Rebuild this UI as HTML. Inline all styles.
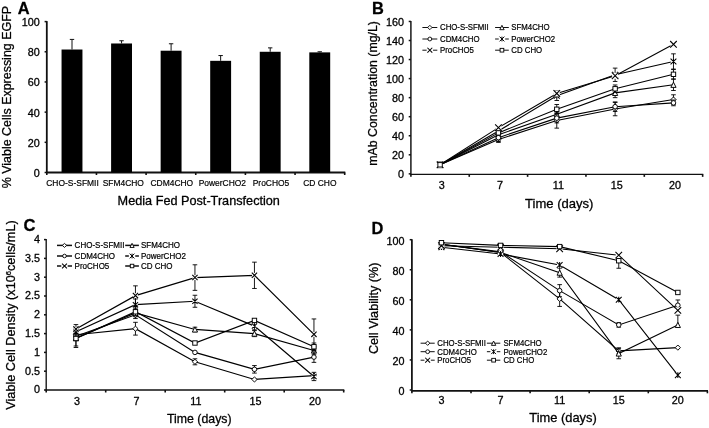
<!DOCTYPE html>
<html lang="en"><head><meta charset="utf-8"><title>Figure</title>
<style>html,body{margin:0;padding:0;background:#fff}svg{display:block}</style></head>
<body>
<svg width="709" height="428" viewBox="0 0 709 428" font-family="'Liberation Sans', sans-serif" fill="#000">
<style>text{stroke:#000;stroke-width:0.28px;stroke-linejoin:round}</style>
<rect width="709" height="428" fill="#fff"/>
<line x1="46.80" y1="21.10" x2="46.80" y2="173.10" stroke="#111" stroke-width="1.8"/>
<line x1="46.20" y1="172.50" x2="345.30" y2="172.50" stroke="#111" stroke-width="1.8"/>
<line x1="44.60" y1="172.50" x2="46.80" y2="172.50" stroke="#111" stroke-width="1.5"/>
<text transform="translate(39.80 177.00) scale(1.06 1)" font-size="10.2" text-anchor="end">0</text>
<line x1="44.60" y1="142.32" x2="46.80" y2="142.32" stroke="#111" stroke-width="1.5"/>
<text transform="translate(39.80 146.82) scale(1.06 1)" font-size="10.2" text-anchor="end">20</text>
<line x1="44.60" y1="112.14" x2="46.80" y2="112.14" stroke="#111" stroke-width="1.5"/>
<text transform="translate(39.80 116.64) scale(1.06 1)" font-size="10.2" text-anchor="end">40</text>
<line x1="44.60" y1="81.96" x2="46.80" y2="81.96" stroke="#111" stroke-width="1.5"/>
<text transform="translate(39.80 86.46) scale(1.06 1)" font-size="10.2" text-anchor="end">60</text>
<line x1="44.60" y1="51.78" x2="46.80" y2="51.78" stroke="#111" stroke-width="1.5"/>
<text transform="translate(39.80 56.28) scale(1.06 1)" font-size="10.2" text-anchor="end">80</text>
<line x1="44.60" y1="21.60" x2="46.80" y2="21.60" stroke="#111" stroke-width="1.5"/>
<text transform="translate(39.80 26.10) scale(1.06 1)" font-size="10.2" text-anchor="end">100</text>
<line x1="46.80" y1="172.50" x2="46.80" y2="175.00" stroke="#111" stroke-width="1.6"/>
<line x1="96.45" y1="172.50" x2="96.45" y2="175.00" stroke="#111" stroke-width="1.6"/>
<line x1="146.10" y1="172.50" x2="146.10" y2="175.00" stroke="#111" stroke-width="1.6"/>
<line x1="195.75" y1="172.50" x2="195.75" y2="175.00" stroke="#111" stroke-width="1.6"/>
<line x1="245.40" y1="172.50" x2="245.40" y2="175.00" stroke="#111" stroke-width="1.6"/>
<line x1="295.05" y1="172.50" x2="295.05" y2="175.00" stroke="#111" stroke-width="1.6"/>
<line x1="344.70" y1="172.50" x2="344.70" y2="175.00" stroke="#111" stroke-width="1.6"/>
<rect x="61.55" y="49.52" width="20.9" height="122.98" fill="#000"/>
<path d="M72.00 49.52L72.00 39.41M69.80 39.41L74.20 39.41" stroke="#111" stroke-width="1.0" fill="none"/>
<text x="72.53" y="185.80" font-size="8.45" text-anchor="middle" style="stroke-width:0.18px">CHO-S-SFMII</text>
<rect x="111.10" y="43.48" width="20.9" height="129.02" fill="#000"/>
<path d="M121.55 43.48L121.55 40.76M119.35 40.76L123.75 40.76" stroke="#111" stroke-width="1.0" fill="none"/>
<text x="123.27" y="185.80" font-size="8.45" text-anchor="middle" style="stroke-width:0.18px">SFM4CHO</text>
<rect x="160.65" y="50.72" width="20.9" height="121.78" fill="#000"/>
<path d="M171.10 50.72L171.10 43.78M168.90 43.78L173.30 43.78" stroke="#111" stroke-width="1.0" fill="none"/>
<text x="171.83" y="185.80" font-size="8.45" text-anchor="middle" style="stroke-width:0.18px">CDM4CHO</text>
<rect x="210.20" y="60.83" width="20.9" height="111.67" fill="#000"/>
<path d="M220.65 60.83L220.65 55.55M218.45 55.55L222.85 55.55" stroke="#111" stroke-width="1.0" fill="none"/>
<text x="222.38" y="185.80" font-size="8.45" text-anchor="middle" style="stroke-width:0.18px">PowerCHO2</text>
<rect x="259.75" y="51.78" width="20.9" height="120.72" fill="#000"/>
<path d="M270.20 51.78L270.20 47.86M268.00 47.86L272.40 47.86" stroke="#111" stroke-width="1.0" fill="none"/>
<text x="271.02" y="185.80" font-size="8.45" text-anchor="middle" style="stroke-width:0.18px">ProCHO5</text>
<rect x="309.30" y="52.38" width="20.9" height="120.12" fill="#000"/>
<path d="M319.75 52.38L319.75 51.78M317.55 51.78L321.95 51.78" stroke="#111" stroke-width="1.0" fill="none"/>
<text x="319.88" y="185.80" font-size="8.45" text-anchor="middle" style="stroke-width:0.18px">CD CHO</text>
<text transform="translate(198.75 205.30) scale(1.04 1)" font-size="12.2" text-anchor="middle">Media Fed Post-Transfection</text>
<text x="11.30" y="97.10" font-size="12.45" text-anchor="middle" transform="rotate(-90 11.30 97.10)">% Viable Cells Expressing EGFP</text>
<text x="17.80" y="13.95" font-size="16.4" text-anchor="start" font-weight="bold">A</text>
<line x1="410.90" y1="20.95" x2="410.90" y2="174.45" stroke="#111" stroke-width="1.45"/>
<line x1="410.30" y1="174.35" x2="703.25" y2="174.35" stroke="#111" stroke-width="1.45"/>
<line x1="408.70" y1="173.85" x2="410.90" y2="173.85" stroke="#111" stroke-width="1.5"/>
<text transform="translate(404.00 178.05) scale(1.06 1)" font-size="10.2" text-anchor="end">0</text>
<line x1="408.70" y1="154.80" x2="410.90" y2="154.80" stroke="#111" stroke-width="1.5"/>
<text transform="translate(404.00 159.00) scale(1.06 1)" font-size="10.2" text-anchor="end">20</text>
<line x1="408.70" y1="135.75" x2="410.90" y2="135.75" stroke="#111" stroke-width="1.5"/>
<text transform="translate(404.00 139.95) scale(1.06 1)" font-size="10.2" text-anchor="end">40</text>
<line x1="408.70" y1="116.70" x2="410.90" y2="116.70" stroke="#111" stroke-width="1.5"/>
<text transform="translate(404.00 120.90) scale(1.06 1)" font-size="10.2" text-anchor="end">60</text>
<line x1="408.70" y1="97.65" x2="410.90" y2="97.65" stroke="#111" stroke-width="1.5"/>
<text transform="translate(404.00 101.85) scale(1.06 1)" font-size="10.2" text-anchor="end">80</text>
<line x1="408.70" y1="78.60" x2="410.90" y2="78.60" stroke="#111" stroke-width="1.5"/>
<text transform="translate(404.00 82.80) scale(1.06 1)" font-size="10.2" text-anchor="end">100</text>
<line x1="408.70" y1="59.55" x2="410.90" y2="59.55" stroke="#111" stroke-width="1.5"/>
<text transform="translate(404.00 63.75) scale(1.06 1)" font-size="10.2" text-anchor="end">120</text>
<line x1="408.70" y1="40.50" x2="410.90" y2="40.50" stroke="#111" stroke-width="1.5"/>
<text transform="translate(404.00 44.70) scale(1.06 1)" font-size="10.2" text-anchor="end">140</text>
<line x1="408.70" y1="21.45" x2="410.90" y2="21.45" stroke="#111" stroke-width="1.5"/>
<text transform="translate(404.00 25.65) scale(1.06 1)" font-size="10.2" text-anchor="end">160</text>
<line x1="410.90" y1="174.35" x2="410.90" y2="176.85" stroke="#111" stroke-width="1.6"/>
<line x1="469.25" y1="174.35" x2="469.25" y2="176.85" stroke="#111" stroke-width="1.6"/>
<line x1="527.60" y1="174.35" x2="527.60" y2="176.85" stroke="#111" stroke-width="1.6"/>
<line x1="585.95" y1="174.35" x2="585.95" y2="176.85" stroke="#111" stroke-width="1.6"/>
<line x1="644.30" y1="174.35" x2="644.30" y2="176.85" stroke="#111" stroke-width="1.6"/>
<line x1="702.65" y1="174.35" x2="702.65" y2="176.85" stroke="#111" stroke-width="1.6"/>
<polyline points="440.07,164.80 498.42,139.56 556.77,120.51 615.12,109.08 673.47,99.55" fill="none" stroke="#000" stroke-width="1.1"/>
<path d="M440.07 162.42L440.07 167.18M437.77 162.42L442.38 162.42M437.77 167.18L442.38 167.18" fill="none" stroke="#000" stroke-width="0.9"/>
<path d="M498.42 136.70L498.42 142.42M496.12 136.70L500.72 136.70M496.12 142.42L500.72 142.42" fill="none" stroke="#000" stroke-width="0.9"/>
<path d="M556.77 112.89L556.77 128.13M554.48 112.89L559.07 112.89M554.48 128.13L559.07 128.13" fill="none" stroke="#000" stroke-width="0.9"/>
<path d="M615.12 102.41L615.12 115.75M612.83 102.41L617.42 102.41M612.83 115.75L617.42 115.75" fill="none" stroke="#000" stroke-width="0.9"/>
<path d="M673.47 94.79L673.47 104.32M671.17 94.79L675.77 94.79M671.17 104.32L675.77 104.32" fill="none" stroke="#000" stroke-width="0.9"/>
<path d="M437.47 164.80L440.07 162.20L442.68 164.80L440.07 167.40Z" fill="#fff" stroke="#000" stroke-width="0.95"/>
<path d="M495.82 139.56L498.42 136.96L501.02 139.56L498.42 142.16Z" fill="#fff" stroke="#000" stroke-width="0.95"/>
<path d="M554.17 120.51L556.77 117.91L559.38 120.51L556.77 123.11Z" fill="#fff" stroke="#000" stroke-width="0.95"/>
<path d="M612.52 109.08L615.12 106.48L617.73 109.08L615.12 111.68Z" fill="#fff" stroke="#000" stroke-width="0.95"/>
<path d="M670.87 99.55L673.47 96.95L676.07 99.55L673.47 102.15Z" fill="#fff" stroke="#000" stroke-width="0.95"/>
<polyline points="440.07,164.80 498.42,134.80 556.77,114.32 615.12,92.89 673.47,84.79" fill="none" stroke="#000" stroke-width="1.1"/>
<path d="M498.42 131.94L498.42 137.66M496.12 131.94L500.72 131.94M496.12 137.66L500.72 137.66" fill="none" stroke="#000" stroke-width="0.9"/>
<path d="M556.77 109.56L556.77 119.08M554.48 109.56L559.07 109.56M554.48 119.08L559.07 119.08" fill="none" stroke="#000" stroke-width="0.9"/>
<path d="M615.12 88.12L615.12 97.65M612.83 88.12L617.42 88.12M612.83 97.65L617.42 97.65" fill="none" stroke="#000" stroke-width="0.9"/>
<path d="M673.47 79.08L673.47 90.51M671.17 79.08L675.77 79.08M671.17 90.51L675.77 90.51" fill="none" stroke="#000" stroke-width="0.9"/>
<path d="M437.47 167.40L440.07 162.20L442.68 167.40Z" fill="#fff" stroke="#000" stroke-width="0.95"/>
<path d="M495.82 137.40L498.42 132.20L501.02 137.40Z" fill="#fff" stroke="#000" stroke-width="0.95"/>
<path d="M554.17 116.92L556.77 111.72L559.38 116.92Z" fill="#fff" stroke="#000" stroke-width="0.95"/>
<path d="M612.52 95.49L615.12 90.29L617.73 95.49Z" fill="#fff" stroke="#000" stroke-width="0.95"/>
<path d="M670.87 87.39L673.47 82.19L676.07 87.39Z" fill="#fff" stroke="#000" stroke-width="0.95"/>
<polyline points="440.07,164.80 498.42,137.66 556.77,118.13 615.12,106.70 673.47,102.89" fill="none" stroke="#000" stroke-width="1.1"/>
<path d="M498.42 133.84L498.42 141.47M496.12 133.84L500.72 133.84M496.12 141.47L500.72 141.47" fill="none" stroke="#000" stroke-width="0.9"/>
<path d="M556.77 113.37L556.77 122.89M554.48 113.37L559.07 113.37M554.48 122.89L559.07 122.89" fill="none" stroke="#000" stroke-width="0.9"/>
<path d="M615.12 101.94L615.12 111.46M612.83 101.94L617.42 101.94M612.83 111.46L617.42 111.46" fill="none" stroke="#000" stroke-width="0.9"/>
<path d="M673.47 100.03L673.47 105.75M671.17 100.03L675.77 100.03M671.17 105.75L675.77 105.75" fill="none" stroke="#000" stroke-width="0.9"/>
<circle cx="440.07" cy="164.80" r="2.28" fill="#fff" stroke="#000" stroke-width="0.95"/>
<circle cx="498.42" cy="137.66" r="2.28" fill="#fff" stroke="#000" stroke-width="0.95"/>
<circle cx="556.77" cy="118.13" r="2.28" fill="#fff" stroke="#000" stroke-width="0.95"/>
<circle cx="615.12" cy="106.70" r="2.28" fill="#fff" stroke="#000" stroke-width="0.95"/>
<circle cx="673.47" cy="102.89" r="2.28" fill="#fff" stroke="#000" stroke-width="0.95"/>
<polyline points="440.07,164.80 498.42,130.99 556.77,95.74 615.12,74.79 673.47,61.45" fill="none" stroke="#000" stroke-width="1.1"/>
<path d="M440.07 161.94L440.07 167.66M437.77 161.94L442.38 161.94M437.77 167.66L442.38 167.66" fill="none" stroke="#000" stroke-width="0.9"/>
<path d="M498.42 128.13L498.42 133.84M496.12 128.13L500.72 128.13M496.12 133.84L500.72 133.84" fill="none" stroke="#000" stroke-width="0.9"/>
<path d="M556.77 90.98L556.77 100.51M554.48 90.98L559.07 90.98M554.48 100.51L559.07 100.51" fill="none" stroke="#000" stroke-width="0.9"/>
<path d="M615.12 68.12L615.12 81.46M612.83 68.12L617.42 68.12M612.83 81.46L617.42 81.46" fill="none" stroke="#000" stroke-width="0.9"/>
<path d="M673.47 53.83L673.47 69.07M671.17 53.83L675.77 53.83M671.17 69.07L675.77 69.07" fill="none" stroke="#000" stroke-width="0.9"/>
<rect x="437.41" y="162.13" width="5.34" height="5.34" fill="#fff"/>
<path d="M437.18 161.90L442.97 167.70M437.18 167.70L442.97 161.90M440.07 161.90L440.07 167.70" fill="none" stroke="#000" stroke-width="1.04"/>
<rect x="495.76" y="128.32" width="5.34" height="5.34" fill="#fff"/>
<path d="M495.52 128.09L501.32 133.89M495.52 133.89L501.32 128.09M498.42 128.09L498.42 133.89" fill="none" stroke="#000" stroke-width="1.04"/>
<rect x="554.11" y="93.08" width="5.34" height="5.34" fill="#fff"/>
<path d="M553.88 92.84L559.67 98.64M553.88 98.64L559.67 92.84M556.77 92.84L556.77 98.64" fill="none" stroke="#000" stroke-width="1.04"/>
<rect x="612.46" y="72.12" width="5.34" height="5.34" fill="#fff"/>
<path d="M612.23 71.89L618.02 77.69M612.23 77.69L618.02 71.89M615.12 71.89L615.12 77.69" fill="none" stroke="#000" stroke-width="1.04"/>
<rect x="670.81" y="58.79" width="5.34" height="5.34" fill="#fff"/>
<path d="M670.57 58.55L676.37 64.36M670.57 64.36L676.37 58.55M673.47 58.55L673.47 64.36" fill="none" stroke="#000" stroke-width="1.04"/>
<polyline points="440.07,164.80 498.42,127.65 556.77,93.46 615.12,75.74 673.47,44.31" fill="none" stroke="#000" stroke-width="1.1"/>
<path d="M556.77 90.60L556.77 96.32M554.48 90.60L559.07 90.60M554.48 96.32L559.07 96.32" fill="none" stroke="#000" stroke-width="0.9"/>
<rect x="437.04" y="161.77" width="6.07" height="6.07" fill="#fff"/>
<path d="M436.77 161.50L443.38 168.10M436.77 168.10L443.38 161.50" fill="none" stroke="#000" stroke-width="1.09"/>
<rect x="495.39" y="124.62" width="6.07" height="6.07" fill="#fff"/>
<path d="M495.12 124.35L501.72 130.95M495.12 130.95L501.72 124.35" fill="none" stroke="#000" stroke-width="1.09"/>
<rect x="553.74" y="90.42" width="6.07" height="6.07" fill="#fff"/>
<path d="M553.48 90.16L560.07 96.76M553.48 96.76L560.07 90.16" fill="none" stroke="#000" stroke-width="1.09"/>
<rect x="612.09" y="72.71" width="6.07" height="6.07" fill="#fff"/>
<path d="M611.83 72.44L618.42 79.04M611.83 79.04L618.42 72.44" fill="none" stroke="#000" stroke-width="1.09"/>
<rect x="670.44" y="41.27" width="6.07" height="6.07" fill="#fff"/>
<path d="M670.17 41.01L676.77 47.61M670.17 47.61L676.77 41.01" fill="none" stroke="#000" stroke-width="1.09"/>
<polyline points="440.07,164.80 498.42,132.89 556.77,109.27 615.12,88.79 673.47,74.31" fill="none" stroke="#000" stroke-width="1.1"/>
<path d="M556.77 104.51L556.77 114.03M554.48 104.51L559.07 104.51M554.48 114.03L559.07 114.03" fill="none" stroke="#000" stroke-width="0.9"/>
<path d="M615.12 84.98L615.12 92.60M612.83 84.98L617.42 84.98M612.83 92.60L617.42 92.60" fill="none" stroke="#000" stroke-width="0.9"/>
<path d="M673.47 69.55L673.47 79.08M671.17 69.55L675.77 69.55M671.17 79.08L675.77 79.08" fill="none" stroke="#000" stroke-width="0.9"/>
<rect x="437.88" y="162.60" width="4.40" height="4.40" fill="#fff" stroke="#000" stroke-width="0.95"/>
<rect x="496.22" y="130.69" width="4.40" height="4.40" fill="#fff" stroke="#000" stroke-width="0.95"/>
<rect x="554.57" y="107.07" width="4.40" height="4.40" fill="#fff" stroke="#000" stroke-width="0.95"/>
<rect x="612.92" y="86.59" width="4.40" height="4.40" fill="#fff" stroke="#000" stroke-width="0.95"/>
<rect x="671.27" y="72.11" width="4.40" height="4.40" fill="#fff" stroke="#000" stroke-width="0.95"/>
<text transform="translate(441.68 188.75) scale(1.06 1)" font-size="10.2" text-anchor="middle">3</text>
<text transform="translate(500.02 188.75) scale(1.06 1)" font-size="10.2" text-anchor="middle">7</text>
<text transform="translate(558.38 188.75) scale(1.06 1)" font-size="10.2" text-anchor="middle">11</text>
<text transform="translate(616.73 188.75) scale(1.06 1)" font-size="10.2" text-anchor="middle">15</text>
<text transform="translate(675.07 188.75) scale(1.06 1)" font-size="10.2" text-anchor="middle">20</text>
<text transform="translate(559.20 207.90) scale(1.045 1)" font-size="12.5" text-anchor="middle">Time (days)</text>
<text x="377.00" y="93.40" font-size="12.35" text-anchor="middle" transform="rotate(-90 377.00 93.40)">mAb Concentration (mg/L)</text>
<text x="372.10" y="14.00" font-size="16.4" text-anchor="start" font-weight="bold">B</text>
<line x1="422.40" y1="27.50" x2="437.30" y2="27.50" stroke="#111" stroke-width="1.0"/>
<path d="M427.67 27.50L429.85 25.32L432.03 27.50L429.85 29.68Z" fill="#fff" stroke="#000" stroke-width="0.9"/>
<text transform="translate(440.00 30.45) scale(0.955 1)" font-size="8.2" text-anchor="start" style="stroke-width:0.2px">CHO-S-SFMII</text>
<line x1="495.10" y1="27.50" x2="508.80" y2="27.50" stroke="#111" stroke-width="1.0"/>
<path d="M499.77 29.68L501.95 25.32L504.13 29.68Z" fill="#fff" stroke="#000" stroke-width="0.9"/>
<text transform="translate(511.30 30.45) scale(0.955 1)" font-size="8.2" text-anchor="start" style="stroke-width:0.2px">SFM4CHO</text>
<line x1="422.40" y1="39.00" x2="437.30" y2="39.00" stroke="#111" stroke-width="1.0"/>
<circle cx="429.85" cy="39.00" r="1.92" fill="#fff" stroke="#000" stroke-width="0.9"/>
<text transform="translate(440.00 41.95) scale(0.955 1)" font-size="8.2" text-anchor="start" style="stroke-width:0.2px">CDM4CHO</text>
<line x1="495.10" y1="39.00" x2="508.80" y2="39.00" stroke="#111" stroke-width="1.0"/>
<rect x="498.75" y="37.00" width="6.4" height="4" fill="#fff"/>
<path d="M499.57 36.62L504.33 41.38M499.57 41.38L504.33 36.62M501.95 36.62L501.95 41.38" fill="none" stroke="#000" stroke-width="0.99"/>
<text transform="translate(511.30 41.95) scale(0.955 1)" font-size="8.2" text-anchor="start" style="stroke-width:0.2px">PowerCHO2</text>
<line x1="422.40" y1="50.20" x2="437.30" y2="50.20" stroke="#111" stroke-width="1.0"/>
<rect x="426.65" y="48.20" width="6.4" height="4" fill="#fff"/>
<path d="M427.41 47.76L432.29 52.64M427.41 52.64L432.29 47.76" fill="none" stroke="#000" stroke-width="1.03"/>
<text transform="translate(440.00 53.15) scale(0.955 1)" font-size="8.2" text-anchor="start" style="stroke-width:0.2px">ProCHO5</text>
<line x1="495.10" y1="50.20" x2="508.80" y2="50.20" stroke="#111" stroke-width="1.0"/>
<rect x="500.10" y="48.35" width="3.70" height="3.70" fill="#fff" stroke="#000" stroke-width="0.9"/>
<text transform="translate(511.30 53.15) scale(0.955 1)" font-size="8.2" text-anchor="start" style="stroke-width:0.2px">CD CHO</text>
<line x1="46.20" y1="239.10" x2="46.20" y2="390.60" stroke="#111" stroke-width="1.35"/>
<line x1="45.60" y1="390.00" x2="344.30" y2="390.00" stroke="#111" stroke-width="1.35"/>
<line x1="44.00" y1="390.00" x2="46.20" y2="390.00" stroke="#111" stroke-width="1.5"/>
<text transform="translate(40.00 393.40) scale(1.06 1)" font-size="10.2" text-anchor="end">0</text>
<line x1="44.00" y1="371.20" x2="46.20" y2="371.20" stroke="#111" stroke-width="1.5"/>
<text transform="translate(40.00 374.60) scale(1.06 1)" font-size="10.2" text-anchor="end">0.5</text>
<line x1="44.00" y1="352.40" x2="46.20" y2="352.40" stroke="#111" stroke-width="1.5"/>
<text transform="translate(40.00 355.80) scale(1.06 1)" font-size="10.2" text-anchor="end">1</text>
<line x1="44.00" y1="333.60" x2="46.20" y2="333.60" stroke="#111" stroke-width="1.5"/>
<text transform="translate(40.00 337.00) scale(1.06 1)" font-size="10.2" text-anchor="end">1.5</text>
<line x1="44.00" y1="314.80" x2="46.20" y2="314.80" stroke="#111" stroke-width="1.5"/>
<text transform="translate(40.00 318.20) scale(1.06 1)" font-size="10.2" text-anchor="end">2</text>
<line x1="44.00" y1="296.00" x2="46.20" y2="296.00" stroke="#111" stroke-width="1.5"/>
<text transform="translate(40.00 299.40) scale(1.06 1)" font-size="10.2" text-anchor="end">2.5</text>
<line x1="44.00" y1="277.20" x2="46.20" y2="277.20" stroke="#111" stroke-width="1.5"/>
<text transform="translate(40.00 280.60) scale(1.06 1)" font-size="10.2" text-anchor="end">3</text>
<line x1="44.00" y1="258.40" x2="46.20" y2="258.40" stroke="#111" stroke-width="1.5"/>
<text transform="translate(40.00 261.80) scale(1.06 1)" font-size="10.2" text-anchor="end">3.5</text>
<line x1="44.00" y1="239.60" x2="46.20" y2="239.60" stroke="#111" stroke-width="1.5"/>
<text transform="translate(40.00 243.00) scale(1.06 1)" font-size="10.2" text-anchor="end">4</text>
<line x1="46.20" y1="390.00" x2="46.20" y2="392.50" stroke="#111" stroke-width="1.6"/>
<line x1="105.70" y1="390.00" x2="105.70" y2="392.50" stroke="#111" stroke-width="1.6"/>
<line x1="165.20" y1="390.00" x2="165.20" y2="392.50" stroke="#111" stroke-width="1.6"/>
<line x1="224.70" y1="390.00" x2="224.70" y2="392.50" stroke="#111" stroke-width="1.6"/>
<line x1="284.20" y1="390.00" x2="284.20" y2="392.50" stroke="#111" stroke-width="1.6"/>
<line x1="343.70" y1="390.00" x2="343.70" y2="392.50" stroke="#111" stroke-width="1.6"/>
<polyline points="75.95,334.73 135.45,328.71 194.95,361.80 254.45,379.47 313.95,375.71" fill="none" stroke="#000" stroke-width="1.2"/>
<path d="M75.95 329.09L75.95 340.37M73.65 329.09L78.25 329.09M73.65 340.37L78.25 340.37" fill="none" stroke="#000" stroke-width="0.9"/>
<path d="M135.45 322.32L135.45 335.10M133.15 322.32L137.75 322.32M133.15 335.10L137.75 335.10" fill="none" stroke="#000" stroke-width="0.9"/>
<path d="M194.95 358.79L194.95 364.81M192.65 358.79L197.25 358.79M192.65 364.81L197.25 364.81" fill="none" stroke="#000" stroke-width="0.9"/>
<path d="M73.35 334.73L75.95 332.13L78.55 334.73L75.95 337.33Z" fill="#fff" stroke="#000" stroke-width="0.95"/>
<path d="M132.85 328.71L135.45 326.11L138.05 328.71L135.45 331.31Z" fill="#fff" stroke="#000" stroke-width="0.95"/>
<path d="M192.35 361.80L194.95 359.20L197.55 361.80L194.95 364.40Z" fill="#fff" stroke="#000" stroke-width="0.95"/>
<path d="M251.85 379.47L254.45 376.87L257.05 379.47L254.45 382.07Z" fill="#fff" stroke="#000" stroke-width="0.95"/>
<path d="M311.35 375.71L313.95 373.11L316.55 375.71L313.95 378.31Z" fill="#fff" stroke="#000" stroke-width="0.95"/>
<polyline points="75.95,338.11 135.45,312.92 194.95,329.46 254.45,333.60 313.95,350.52" fill="none" stroke="#000" stroke-width="1.2"/>
<path d="M75.95 328.71L75.95 347.51M73.65 328.71L78.25 328.71M73.65 347.51L78.25 347.51" fill="none" stroke="#000" stroke-width="0.9"/>
<path d="M135.45 309.16L135.45 316.68M133.15 309.16L137.75 309.16M133.15 316.68L137.75 316.68" fill="none" stroke="#000" stroke-width="0.9"/>
<path d="M194.95 327.21L194.95 331.72M192.65 327.21L197.25 327.21M192.65 331.72L197.25 331.72" fill="none" stroke="#000" stroke-width="0.9"/>
<path d="M254.45 330.59L254.45 336.61M252.15 330.59L256.75 330.59M252.15 336.61L256.75 336.61" fill="none" stroke="#000" stroke-width="0.9"/>
<path d="M313.95 346.76L313.95 354.28M311.65 346.76L316.25 346.76M311.65 354.28L316.25 354.28" fill="none" stroke="#000" stroke-width="0.9"/>
<path d="M73.35 340.71L75.95 335.51L78.55 340.71Z" fill="#fff" stroke="#000" stroke-width="0.95"/>
<path d="M132.85 315.52L135.45 310.32L138.05 315.52Z" fill="#fff" stroke="#000" stroke-width="0.95"/>
<path d="M192.35 332.06L194.95 326.86L197.55 332.06Z" fill="#fff" stroke="#000" stroke-width="0.95"/>
<path d="M251.85 336.20L254.45 331.00L257.05 336.20Z" fill="#fff" stroke="#000" stroke-width="0.95"/>
<path d="M311.35 353.12L313.95 347.92L316.55 353.12Z" fill="#fff" stroke="#000" stroke-width="0.95"/>
<polyline points="75.95,336.23 135.45,314.80 194.95,352.40 254.45,369.32 313.95,357.10" fill="none" stroke="#000" stroke-width="1.2"/>
<path d="M75.95 332.47L75.95 339.99M73.65 332.47L78.25 332.47M73.65 339.99L78.25 339.99" fill="none" stroke="#000" stroke-width="0.9"/>
<path d="M135.45 311.04L135.45 318.56M133.15 311.04L137.75 311.04M133.15 318.56L137.75 318.56" fill="none" stroke="#000" stroke-width="0.9"/>
<path d="M254.45 365.56L254.45 373.08M252.15 365.56L256.75 365.56M252.15 373.08L256.75 373.08" fill="none" stroke="#000" stroke-width="0.9"/>
<path d="M313.95 351.84L313.95 362.36M311.65 351.84L316.25 351.84M311.65 362.36L316.25 362.36" fill="none" stroke="#000" stroke-width="0.9"/>
<circle cx="75.95" cy="336.23" r="2.28" fill="#fff" stroke="#000" stroke-width="0.95"/>
<circle cx="135.45" cy="314.80" r="2.28" fill="#fff" stroke="#000" stroke-width="0.95"/>
<circle cx="194.95" cy="352.40" r="2.28" fill="#fff" stroke="#000" stroke-width="0.95"/>
<circle cx="254.45" cy="369.32" r="2.28" fill="#fff" stroke="#000" stroke-width="0.95"/>
<circle cx="313.95" cy="357.10" r="2.28" fill="#fff" stroke="#000" stroke-width="0.95"/>
<polyline points="75.95,331.72 135.45,304.65 194.95,301.26 254.45,326.08 313.95,376.46" fill="none" stroke="#000" stroke-width="1.2"/>
<path d="M75.95 327.21L75.95 336.23M73.65 327.21L78.25 327.21M73.65 336.23L78.25 336.23" fill="none" stroke="#000" stroke-width="0.9"/>
<path d="M135.45 299.01L135.45 310.29M133.15 299.01L137.75 299.01M133.15 310.29L137.75 310.29" fill="none" stroke="#000" stroke-width="0.9"/>
<path d="M194.95 295.25L194.95 307.28M192.65 295.25L197.25 295.25M192.65 307.28L197.25 307.28" fill="none" stroke="#000" stroke-width="0.9"/>
<path d="M254.45 322.32L254.45 329.84M252.15 322.32L256.75 322.32M252.15 329.84L256.75 329.84" fill="none" stroke="#000" stroke-width="0.9"/>
<path d="M313.95 372.33L313.95 380.60M311.65 372.33L316.25 372.33M311.65 380.60L316.25 380.60" fill="none" stroke="#000" stroke-width="0.9"/>
<rect x="73.55" y="329.32" width="4.80" height="4.80" fill="#fff"/>
<path d="M73.34 329.11L78.56 334.33M73.34 334.33L78.56 329.11M75.95 329.11L75.95 334.33" fill="none" stroke="#000" stroke-width="1.04"/>
<rect x="133.05" y="302.25" width="4.80" height="4.80" fill="#fff"/>
<path d="M132.84 302.04L138.06 307.26M132.84 307.26L138.06 302.04M135.45 302.04L135.45 307.26" fill="none" stroke="#000" stroke-width="1.04"/>
<rect x="192.55" y="298.86" width="4.80" height="4.80" fill="#fff"/>
<path d="M192.34 298.65L197.56 303.87M192.34 303.87L197.56 298.65M194.95 298.65L194.95 303.87" fill="none" stroke="#000" stroke-width="1.04"/>
<rect x="252.05" y="323.68" width="4.80" height="4.80" fill="#fff"/>
<path d="M251.84 323.47L257.06 328.69M251.84 328.69L257.06 323.47M254.45 323.47L254.45 328.69" fill="none" stroke="#000" stroke-width="1.04"/>
<rect x="311.55" y="374.06" width="4.80" height="4.80" fill="#fff"/>
<path d="M311.34 373.85L316.56 379.07M311.34 379.07L316.56 373.85M313.95 373.85L313.95 379.07" fill="none" stroke="#000" stroke-width="1.04"/>
<polyline points="75.95,329.09 135.45,295.62 194.95,277.58 254.45,275.32 313.95,334.35" fill="none" stroke="#000" stroke-width="1.2"/>
<path d="M75.95 324.58L75.95 333.60M73.65 324.58L78.25 324.58M73.65 333.60L78.25 333.60" fill="none" stroke="#000" stroke-width="0.9"/>
<path d="M135.45 285.85L135.45 305.40M133.15 285.85L137.75 285.85M133.15 305.40L137.75 305.40" fill="none" stroke="#000" stroke-width="0.9"/>
<path d="M194.95 264.79L194.95 290.36M192.65 264.79L197.25 264.79M192.65 290.36L197.25 290.36" fill="none" stroke="#000" stroke-width="0.9"/>
<path d="M254.45 262.16L254.45 288.48M252.15 262.16L256.75 262.16M252.15 288.48L256.75 288.48" fill="none" stroke="#000" stroke-width="0.9"/>
<path d="M313.95 318.94L313.95 349.77M311.65 318.94L316.25 318.94M311.65 349.77L316.25 349.77" fill="none" stroke="#000" stroke-width="0.9"/>
<rect x="73.52" y="326.66" width="4.86" height="4.86" fill="#fff"/>
<path d="M73.31 326.45L78.59 331.73M73.31 331.73L78.59 326.45" fill="none" stroke="#000" stroke-width="1.09"/>
<rect x="133.02" y="293.20" width="4.86" height="4.86" fill="#fff"/>
<path d="M132.81 292.98L138.09 298.26M132.81 298.26L138.09 292.98" fill="none" stroke="#000" stroke-width="1.09"/>
<rect x="192.52" y="275.15" width="4.86" height="4.86" fill="#fff"/>
<path d="M192.31 274.94L197.59 280.22M192.31 280.22L197.59 274.94" fill="none" stroke="#000" stroke-width="1.09"/>
<rect x="252.02" y="272.89" width="4.86" height="4.86" fill="#fff"/>
<path d="M251.81 272.68L257.09 277.96M251.81 277.96L257.09 272.68" fill="none" stroke="#000" stroke-width="1.09"/>
<rect x="311.52" y="331.92" width="4.86" height="4.86" fill="#fff"/>
<path d="M311.31 331.71L316.59 336.99M311.31 336.99L316.59 331.71" fill="none" stroke="#000" stroke-width="1.09"/>
<polyline points="75.95,338.49 135.45,311.79 194.95,343.00 254.45,320.44 313.95,346.76" fill="none" stroke="#000" stroke-width="1.2"/>
<path d="M75.95 330.97L75.95 346.01M73.65 330.97L78.25 330.97M73.65 346.01L78.25 346.01" fill="none" stroke="#000" stroke-width="0.9"/>
<path d="M135.45 308.03L135.45 315.55M133.15 308.03L137.75 308.03M133.15 315.55L137.75 315.55" fill="none" stroke="#000" stroke-width="0.9"/>
<path d="M313.95 343.00L313.95 350.52M311.65 343.00L316.25 343.00M311.65 350.52L316.25 350.52" fill="none" stroke="#000" stroke-width="0.9"/>
<rect x="73.75" y="336.29" width="4.40" height="4.40" fill="#fff" stroke="#000" stroke-width="0.95"/>
<rect x="133.25" y="309.59" width="4.40" height="4.40" fill="#fff" stroke="#000" stroke-width="0.95"/>
<rect x="192.75" y="340.80" width="4.40" height="4.40" fill="#fff" stroke="#000" stroke-width="0.95"/>
<rect x="252.25" y="318.24" width="4.40" height="4.40" fill="#fff" stroke="#000" stroke-width="0.95"/>
<rect x="311.75" y="344.56" width="4.40" height="4.40" fill="#fff" stroke="#000" stroke-width="0.95"/>
<text transform="translate(76.95 404.70) scale(1.06 1)" font-size="10.2" text-anchor="middle">3</text>
<text transform="translate(136.45 404.70) scale(1.06 1)" font-size="10.2" text-anchor="middle">7</text>
<text transform="translate(195.95 404.70) scale(1.06 1)" font-size="10.2" text-anchor="middle">11</text>
<text transform="translate(255.45 404.70) scale(1.06 1)" font-size="10.2" text-anchor="middle">15</text>
<text transform="translate(314.95 404.70) scale(1.06 1)" font-size="10.2" text-anchor="middle">20</text>
<text transform="translate(199.30 422.90) scale(0.995 1)" font-size="12.4" text-anchor="middle">Time (days)</text>
<text x="15.1" y="315" font-size="12.7" text-anchor="middle" transform="rotate(-90 15.1 315)">Viable Cell Density (x10<tspan font-size="7.5" dy="-4.5">6</tspan><tspan dy="4.5">cells/mL)</tspan></text>
<text x="23.50" y="230.65" font-size="16.6" text-anchor="start" font-weight="bold">C</text>
<line x1="57.00" y1="245.40" x2="72.00" y2="245.40" stroke="#111" stroke-width="1.5"/>
<path d="M62.42 245.40L64.50 243.32L66.58 245.40L64.50 247.48Z" fill="#fff" stroke="#000" stroke-width="0.9"/>
<text transform="translate(74.60 248.35) scale(0.955 1)" font-size="8.4" text-anchor="start" style="stroke-width:0.2px">CHO-S-SFMII</text>
<line x1="125.20" y1="245.40" x2="138.90" y2="245.40" stroke="#111" stroke-width="1.5"/>
<path d="M129.97 247.48L132.05 243.32L134.13 247.48Z" fill="#fff" stroke="#000" stroke-width="0.9"/>
<text transform="translate(140.90 248.35) scale(0.955 1)" font-size="8.4" text-anchor="start" style="stroke-width:0.2px">SFM4CHO</text>
<line x1="57.00" y1="256.00" x2="72.00" y2="256.00" stroke="#111" stroke-width="1.5"/>
<circle cx="64.50" cy="256.00" r="1.82" fill="#fff" stroke="#000" stroke-width="0.9"/>
<text transform="translate(74.60 258.95) scale(0.955 1)" font-size="8.4" text-anchor="start" style="stroke-width:0.2px">CDM4CHO</text>
<line x1="125.20" y1="256.00" x2="138.90" y2="256.00" stroke="#111" stroke-width="1.5"/>
<rect x="128.85" y="254.00" width="6.4" height="4" fill="#fff"/>
<path d="M129.67 253.62L134.43 258.38M129.67 258.38L134.43 253.62M132.05 253.62L132.05 258.38" fill="none" stroke="#000" stroke-width="0.99"/>
<text transform="translate(140.90 258.95) scale(0.955 1)" font-size="8.4" text-anchor="start" style="stroke-width:0.2px">PowerCHO2</text>
<line x1="57.00" y1="266.00" x2="72.00" y2="266.00" stroke="#111" stroke-width="1.5"/>
<rect x="61.30" y="264.00" width="6.4" height="4" fill="#fff"/>
<path d="M62.06 263.56L66.94 268.44M62.06 268.44L66.94 263.56" fill="none" stroke="#000" stroke-width="1.03"/>
<text transform="translate(74.60 268.95) scale(0.955 1)" font-size="8.4" text-anchor="start" style="stroke-width:0.2px">ProCHO5</text>
<line x1="125.20" y1="266.00" x2="138.90" y2="266.00" stroke="#111" stroke-width="1.5"/>
<rect x="130.29" y="264.24" width="3.52" height="3.52" fill="#fff" stroke="#000" stroke-width="0.9"/>
<text transform="translate(140.90 268.95) scale(0.955 1)" font-size="8.4" text-anchor="start" style="stroke-width:0.2px">CD CHO</text>
<line x1="411.90" y1="239.20" x2="411.90" y2="390.60" stroke="#111" stroke-width="1.75"/>
<line x1="411.30" y1="390.80" x2="708.00" y2="390.80" stroke="#111" stroke-width="1.75"/>
<line x1="409.70" y1="390.00" x2="411.90" y2="390.00" stroke="#111" stroke-width="1.5"/>
<text transform="translate(404.50 395.20) scale(1.06 1)" font-size="10.2" text-anchor="end">0</text>
<line x1="409.70" y1="359.94" x2="411.90" y2="359.94" stroke="#111" stroke-width="1.5"/>
<text transform="translate(404.50 365.14) scale(1.06 1)" font-size="10.2" text-anchor="end">20</text>
<line x1="409.70" y1="329.88" x2="411.90" y2="329.88" stroke="#111" stroke-width="1.5"/>
<text transform="translate(404.50 335.08) scale(1.06 1)" font-size="10.2" text-anchor="end">40</text>
<line x1="409.70" y1="299.82" x2="411.90" y2="299.82" stroke="#111" stroke-width="1.5"/>
<text transform="translate(404.50 305.02) scale(1.06 1)" font-size="10.2" text-anchor="end">60</text>
<line x1="409.70" y1="269.76" x2="411.90" y2="269.76" stroke="#111" stroke-width="1.5"/>
<text transform="translate(404.50 274.96) scale(1.06 1)" font-size="10.2" text-anchor="end">80</text>
<line x1="409.70" y1="239.70" x2="411.90" y2="239.70" stroke="#111" stroke-width="1.5"/>
<text transform="translate(404.50 244.90) scale(1.06 1)" font-size="10.2" text-anchor="end">100</text>
<line x1="411.90" y1="390.80" x2="411.90" y2="393.30" stroke="#111" stroke-width="1.6"/>
<line x1="471.00" y1="390.80" x2="471.00" y2="393.30" stroke="#111" stroke-width="1.6"/>
<line x1="530.10" y1="390.80" x2="530.10" y2="393.30" stroke="#111" stroke-width="1.6"/>
<line x1="589.20" y1="390.80" x2="589.20" y2="393.30" stroke="#111" stroke-width="1.6"/>
<line x1="648.30" y1="390.80" x2="648.30" y2="393.30" stroke="#111" stroke-width="1.6"/>
<line x1="707.40" y1="390.80" x2="707.40" y2="393.30" stroke="#111" stroke-width="1.6"/>
<polyline points="441.45,244.21 500.55,252.48 559.65,298.92 618.75,350.92 677.85,347.62" fill="none" stroke="#000" stroke-width="1.1"/>
<path d="M559.65 291.40L559.65 306.43M557.35 291.40L561.95 291.40M557.35 306.43L561.95 306.43" fill="none" stroke="#000" stroke-width="0.9"/>
<path d="M618.75 347.92L618.75 353.93M616.45 347.92L621.05 347.92M616.45 353.93L621.05 353.93" fill="none" stroke="#000" stroke-width="0.9"/>
<path d="M438.85 244.21L441.45 241.61L444.05 244.21L441.45 246.81Z" fill="#fff" stroke="#000" stroke-width="0.95"/>
<path d="M497.95 252.48L500.55 249.88L503.15 252.48L500.55 255.08Z" fill="#fff" stroke="#000" stroke-width="0.95"/>
<path d="M557.05 298.92L559.65 296.32L562.25 298.92L559.65 301.52Z" fill="#fff" stroke="#000" stroke-width="0.95"/>
<path d="M616.15 350.92L618.75 348.32L621.35 350.92L618.75 353.52Z" fill="#fff" stroke="#000" stroke-width="0.95"/>
<path d="M675.25 347.62L677.85 345.02L680.45 347.62L677.85 350.22Z" fill="#fff" stroke="#000" stroke-width="0.95"/>
<polyline points="441.45,244.21 500.55,252.48 559.65,272.62 618.75,353.48 677.85,324.92" fill="none" stroke="#000" stroke-width="1.1"/>
<path d="M559.65 268.11L559.65 277.12M557.35 268.11L561.95 268.11M557.35 277.12L561.95 277.12" fill="none" stroke="#000" stroke-width="0.9"/>
<path d="M618.75 348.22L618.75 358.74M616.45 348.22L621.05 348.22M616.45 358.74L621.05 358.74" fill="none" stroke="#000" stroke-width="0.9"/>
<path d="M677.85 315.15L677.85 324.92M675.55 315.15L680.15 315.15" fill="none" stroke="#000" stroke-width="0.9"/>
<path d="M438.85 246.81L441.45 241.61L444.05 246.81Z" fill="#fff" stroke="#000" stroke-width="0.95"/>
<path d="M497.95 255.08L500.55 249.88L503.15 255.08Z" fill="#fff" stroke="#000" stroke-width="0.95"/>
<path d="M557.05 275.22L559.65 270.02L562.25 275.22Z" fill="#fff" stroke="#000" stroke-width="0.95"/>
<path d="M616.15 356.08L618.75 350.88L621.35 356.08Z" fill="#fff" stroke="#000" stroke-width="0.95"/>
<path d="M675.25 327.52L677.85 322.32L680.45 327.52Z" fill="#fff" stroke="#000" stroke-width="0.95"/>
<polyline points="441.45,244.21 500.55,251.72 559.65,290.65 618.75,324.92 677.85,305.23" fill="none" stroke="#000" stroke-width="1.1"/>
<path d="M559.65 284.64L559.65 296.66M557.35 284.64L561.95 284.64M557.35 296.66L561.95 296.66" fill="none" stroke="#000" stroke-width="0.9"/>
<path d="M618.75 322.67L618.75 327.17M616.45 322.67L621.05 322.67M616.45 327.17L621.05 327.17" fill="none" stroke="#000" stroke-width="0.9"/>
<path d="M677.85 299.97L677.85 310.49M675.55 299.97L680.15 299.97M675.55 310.49L680.15 310.49" fill="none" stroke="#000" stroke-width="0.9"/>
<circle cx="441.45" cy="244.21" r="2.28" fill="#fff" stroke="#000" stroke-width="0.95"/>
<circle cx="500.55" cy="251.72" r="2.28" fill="#fff" stroke="#000" stroke-width="0.95"/>
<circle cx="559.65" cy="290.65" r="2.28" fill="#fff" stroke="#000" stroke-width="0.95"/>
<circle cx="618.75" cy="324.92" r="2.28" fill="#fff" stroke="#000" stroke-width="0.95"/>
<circle cx="677.85" cy="305.23" r="2.28" fill="#fff" stroke="#000" stroke-width="0.95"/>
<polyline points="441.45,247.22 500.55,253.98 559.65,264.95 618.75,299.67 677.85,375.12" fill="none" stroke="#000" stroke-width="1.1"/>
<rect x="438.78" y="244.55" width="5.34" height="5.34" fill="#fff"/>
<path d="M438.55 244.31L444.35 250.12M438.55 250.12L444.35 244.31M441.45 244.31L441.45 250.12" fill="none" stroke="#000" stroke-width="1.04"/>
<rect x="497.88" y="251.31" width="5.34" height="5.34" fill="#fff"/>
<path d="M497.65 251.08L503.45 256.88M497.65 256.88L503.45 251.08M500.55 251.08L500.55 256.88" fill="none" stroke="#000" stroke-width="1.04"/>
<rect x="556.98" y="262.28" width="5.34" height="5.34" fill="#fff"/>
<path d="M556.75 262.05L562.55 267.85M556.75 267.85L562.55 262.05M559.65 262.05L559.65 267.85" fill="none" stroke="#000" stroke-width="1.04"/>
<rect x="616.08" y="297.00" width="5.34" height="5.34" fill="#fff"/>
<path d="M615.85 296.77L621.65 302.57M615.85 302.57L621.65 296.77M618.75 296.77L618.75 302.57" fill="none" stroke="#000" stroke-width="1.04"/>
<rect x="675.18" y="372.45" width="5.34" height="5.34" fill="#fff"/>
<path d="M674.95 372.22L680.75 378.02M674.95 378.02L680.75 372.22M677.85 372.22L677.85 378.02" fill="none" stroke="#000" stroke-width="1.04"/>
<polyline points="441.45,245.71 500.55,247.22 559.65,248.72 618.75,255.18 677.85,310.34" fill="none" stroke="#000" stroke-width="1.1"/>
<rect x="438.41" y="242.68" width="6.07" height="6.07" fill="#fff"/>
<path d="M438.15 242.41L444.75 249.01M438.15 249.01L444.75 242.41" fill="none" stroke="#000" stroke-width="1.09"/>
<rect x="497.51" y="244.18" width="6.07" height="6.07" fill="#fff"/>
<path d="M497.25 243.91L503.85 250.52M497.25 250.52L503.85 243.91" fill="none" stroke="#000" stroke-width="1.09"/>
<rect x="556.61" y="245.68" width="6.07" height="6.07" fill="#fff"/>
<path d="M556.35 245.42L562.95 252.02M556.35 252.02L562.95 245.42" fill="none" stroke="#000" stroke-width="1.09"/>
<rect x="615.71" y="252.14" width="6.07" height="6.07" fill="#fff"/>
<path d="M615.45 251.88L622.05 258.48M615.45 258.48L622.05 251.88" fill="none" stroke="#000" stroke-width="1.09"/>
<rect x="674.81" y="307.31" width="6.07" height="6.07" fill="#fff"/>
<path d="M674.55 307.04L681.15 313.64M674.55 313.64L681.15 307.04" fill="none" stroke="#000" stroke-width="1.09"/>
<polyline points="441.45,242.71 500.55,245.41 559.65,246.61 618.75,260.74 677.85,292.46" fill="none" stroke="#000" stroke-width="1.1"/>
<path d="M618.75 260.74L618.75 268.26M616.45 268.26L621.05 268.26" fill="none" stroke="#000" stroke-width="0.9"/>
<rect x="439.25" y="240.51" width="4.40" height="4.40" fill="#fff" stroke="#000" stroke-width="0.95"/>
<rect x="498.35" y="243.21" width="4.40" height="4.40" fill="#fff" stroke="#000" stroke-width="0.95"/>
<rect x="557.45" y="244.41" width="4.40" height="4.40" fill="#fff" stroke="#000" stroke-width="0.95"/>
<rect x="616.55" y="258.54" width="4.40" height="4.40" fill="#fff" stroke="#000" stroke-width="0.95"/>
<rect x="675.65" y="290.26" width="4.40" height="4.40" fill="#fff" stroke="#000" stroke-width="0.95"/>
<text transform="translate(441.45 403.90) scale(1.06 1)" font-size="10.2" text-anchor="middle">3</text>
<text transform="translate(500.55 403.90) scale(1.06 1)" font-size="10.2" text-anchor="middle">7</text>
<text transform="translate(559.65 403.90) scale(1.06 1)" font-size="10.2" text-anchor="middle">11</text>
<text transform="translate(618.75 403.90) scale(1.06 1)" font-size="10.2" text-anchor="middle">15</text>
<text transform="translate(677.85 403.90) scale(1.06 1)" font-size="10.2" text-anchor="middle">20</text>
<text transform="translate(563.00 422.30) scale(1.03 1)" font-size="12.5" text-anchor="middle">Time (days)</text>
<text x="378.10" y="308.30" font-size="12.6" text-anchor="middle" transform="rotate(-90 378.10 308.30)">Cell Viability (%)</text>
<text x="371.50" y="233.80" font-size="16.4" text-anchor="start" font-weight="bold">D</text>
<line x1="420.60" y1="343.20" x2="434.70" y2="343.20" stroke="#111" stroke-width="1.0"/>
<path d="M425.47 343.20L427.65 341.02L429.83 343.20L427.65 345.38Z" fill="#fff" stroke="#000" stroke-width="0.9"/>
<text transform="translate(437.30 346.15) scale(0.955 1)" font-size="8.2" text-anchor="start" style="stroke-width:0.2px">CHO-S-SFMII</text>
<line x1="486.90" y1="343.20" x2="500.30" y2="343.20" stroke="#111" stroke-width="1.0"/>
<path d="M491.42 345.38L493.60 341.02L495.78 345.38Z" fill="#fff" stroke="#000" stroke-width="0.9"/>
<text transform="translate(503.40 346.15) scale(0.955 1)" font-size="8.2" text-anchor="start" style="stroke-width:0.2px">SFM4CHO</text>
<line x1="420.60" y1="351.70" x2="434.70" y2="351.70" stroke="#111" stroke-width="1.0"/>
<circle cx="427.65" cy="351.70" r="1.92" fill="#fff" stroke="#000" stroke-width="0.9"/>
<text transform="translate(437.30 354.65) scale(0.955 1)" font-size="8.2" text-anchor="start" style="stroke-width:0.2px">CDM4CHO</text>
<line x1="486.90" y1="351.70" x2="500.30" y2="351.70" stroke="#111" stroke-width="1.0"/>
<rect x="490.40" y="349.70" width="6.4" height="4" fill="#fff"/>
<path d="M491.22 349.32L495.98 354.08M491.22 354.08L495.98 349.32M493.60 349.32L493.60 354.08" fill="none" stroke="#000" stroke-width="0.99"/>
<text transform="translate(503.40 354.65) scale(0.955 1)" font-size="8.2" text-anchor="start" style="stroke-width:0.2px">PowerCHO2</text>
<line x1="420.60" y1="360.20" x2="434.70" y2="360.20" stroke="#111" stroke-width="1.0"/>
<rect x="424.45" y="358.20" width="6.4" height="4" fill="#fff"/>
<path d="M425.21 357.76L430.09 362.64M425.21 362.64L430.09 357.76" fill="none" stroke="#000" stroke-width="1.03"/>
<text transform="translate(437.30 363.15) scale(0.955 1)" font-size="8.2" text-anchor="start" style="stroke-width:0.2px">ProCHO5</text>
<line x1="486.90" y1="360.20" x2="500.30" y2="360.20" stroke="#111" stroke-width="1.0"/>
<rect x="491.75" y="358.35" width="3.70" height="3.70" fill="#fff" stroke="#000" stroke-width="0.9"/>
<text transform="translate(503.40 363.15) scale(0.955 1)" font-size="8.2" text-anchor="start" style="stroke-width:0.2px">CD CHO</text>
</svg>
</body></html>
